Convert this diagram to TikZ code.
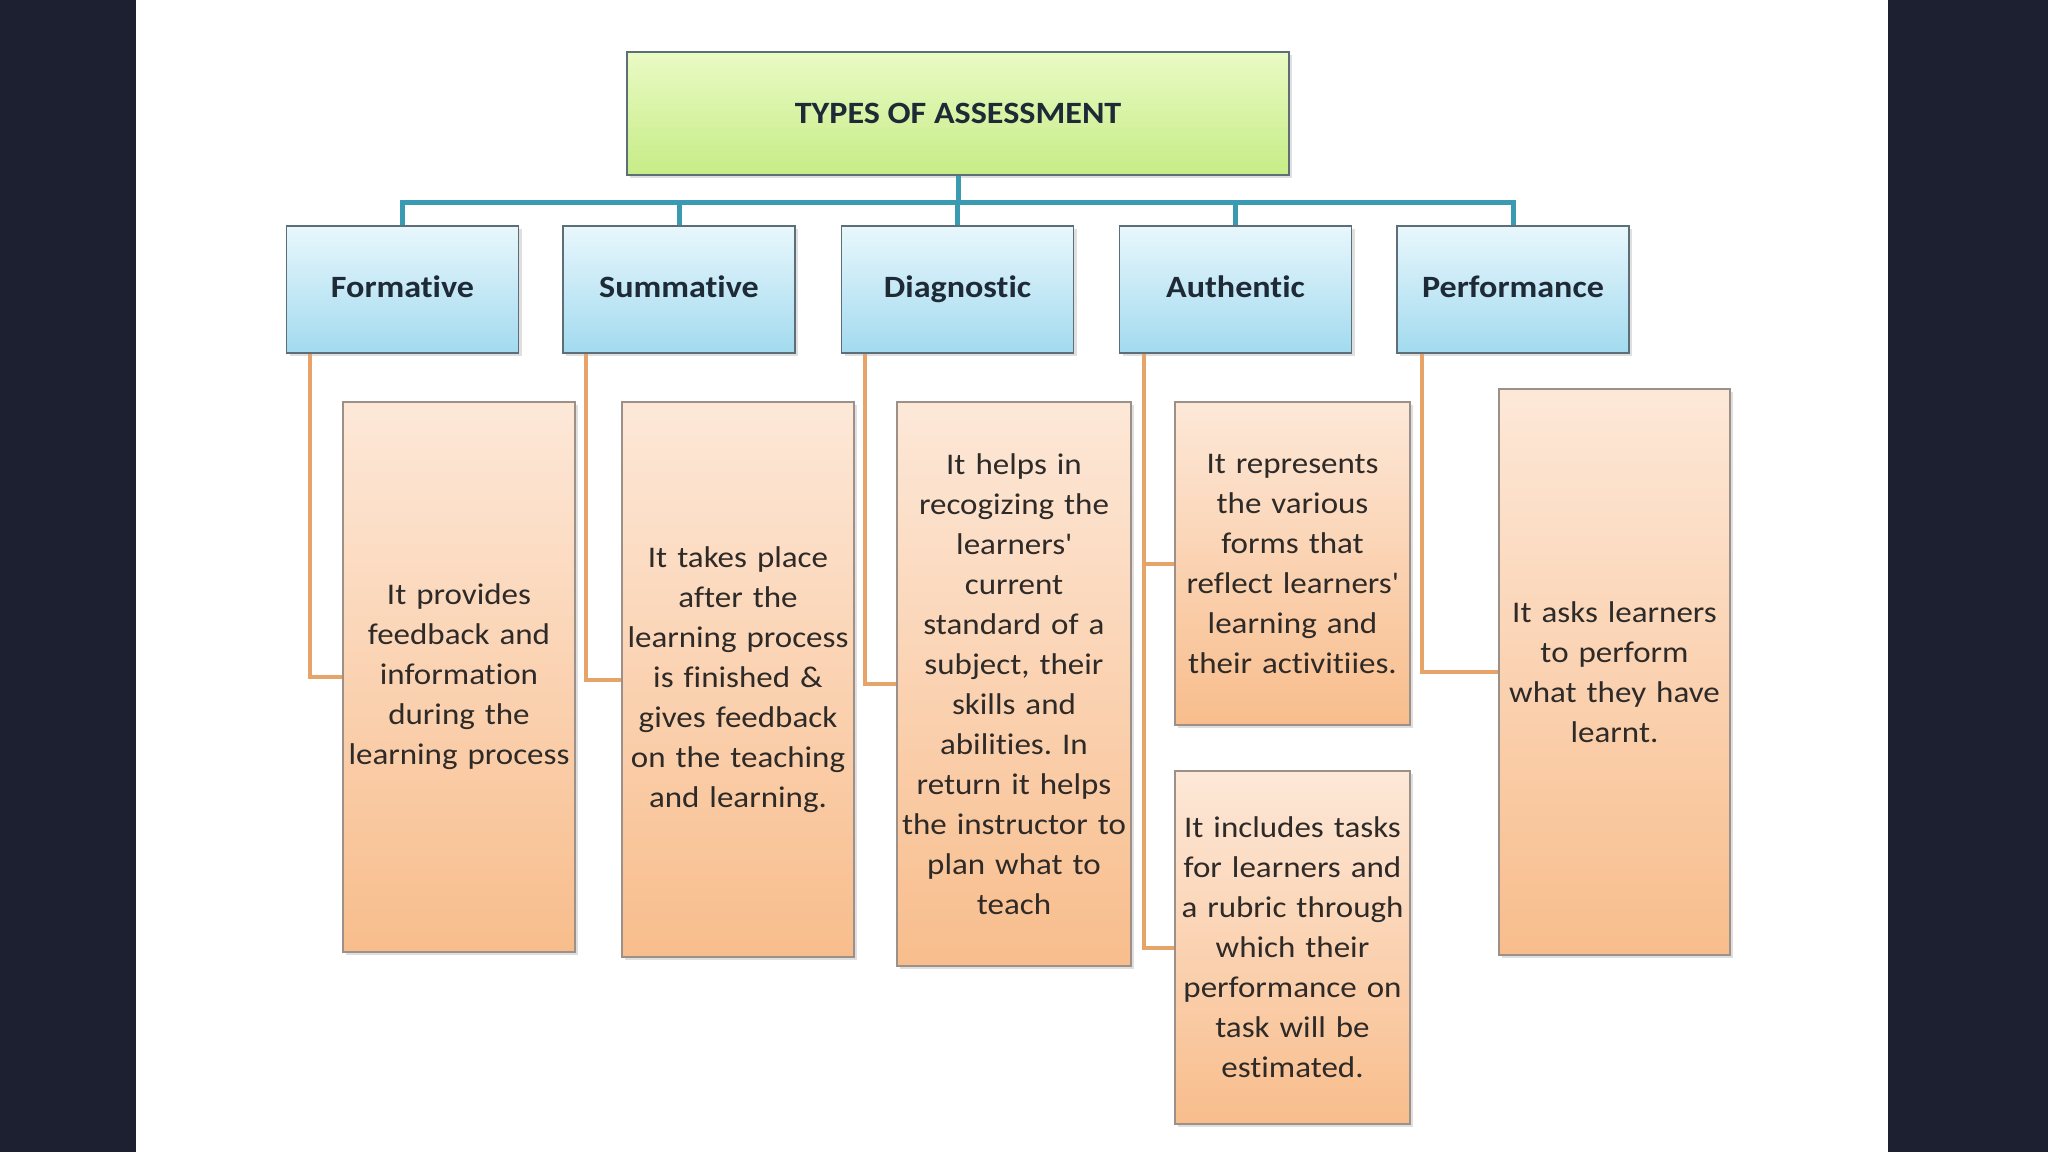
\documentclass[tikz,border=0pt]{standalone}
\usepackage{fontspec}
\setmainfont[FakeStretch=1.1,Ligatures={NoCommon}]{Carlito}
\usetikzlibrary{shadows}
\definecolor{bgdark}{HTML}{1C2030}
\definecolor{busblue}{HTML}{3A9AB2}
\definecolor{linkorange}{HTML}{E6A468}
\definecolor{titletop}{HTML}{EAFAC4}
\definecolor{titlebot}{HTML}{C6EC86}
\definecolor{headtop}{HTML}{E8F7FC}
\definecolor{headbot}{HTML}{A2DAEF}
\definecolor{desctop}{HTML}{FDE8D8}
\definecolor{descbot}{HTML}{F8BD8C}
\definecolor{boxedge}{HTML}{5E6E78}
\definecolor{descedge}{HTML}{9C9088}
\definecolor{inkdark}{HTML}{1E2A36}
\definecolor{bodyink}{HTML}{2E2A28}
\tikzset{
  titlebox/.style={draw=boxedge, line width=2pt, top color=titletop, bottom color=titlebot,
    minimum width=662pt, minimum height=123pt, inner sep=0pt,
    font=\fontsize{31}{36}\selectfont\bfseries, text=inkdark,
    drop shadow={shadow xshift=3pt, shadow yshift=-3pt, opacity=0.25}},
  headbox/.style={draw=boxedge, line width=1.6pt, top color=headtop, bottom color=headbot,
    minimum width=232pt, minimum height=127pt, inner sep=0pt,
    text height=22pt, text depth=6pt,
    font=\fontsize{31}{36}\selectfont\bfseries, text=inkdark,
    drop shadow={shadow xshift=3pt, shadow yshift=-3pt, opacity=0.25}},
  descbox/.style={draw=descedge, line width=1.6pt, top color=desctop, bottom color=descbot,
    inner xsep=1pt, inner ysep=0pt, align=center, text=bodyink,
    font=\fontsize{30}{40}\selectfont\frenchspacing,
    drop shadow={shadow xshift=3pt, shadow yshift=-3pt, opacity=0.25}},
  busline/.style={draw=busblue, line width=5pt},
  linkline/.style={draw=linkorange, line width=4pt}
}
\begin{document}
\begin{tikzpicture}[x=1pt,y=-1pt]
\useasboundingbox (0,0) rectangle (2048,1152);
\fill[bgdark] (0,0) rectangle (2048,1152);
\fill[white] (136,0) rectangle (1888,1152);

\coordinate (bus) at (0,202);

% title
\node[titlebox] (title) at (958,113.5) {TYPES OF ASSESSMENT};

% headers
\node[headbox] (hF) at (402.5,289.5) {Formative};
\node[headbox] (hS) at (679,289.5) {Summative};
\node[headbox] (hD) at (957.5,289.5) {Diagnostic};
\node[headbox] (hA) at (1235.5,289.5) {Authentic};
\node[headbox] (hP) at (1513,289.5) {Performance};

% description boxes
\node[descbox, text width=230pt, minimum height=550pt] (dF) at (459,677)
  {It provides\\feedback and\\information\\during the\\learning process};
\node[descbox, text width=230pt, minimum height=555pt] (dS) at (738,679.5)
  {It takes place\\after the\\learning process\\is finished \&\\gives feedback\\on the teaching\\and learning.};
\node[descbox, text width=232pt, minimum height=564pt] (dD) at (1014,684)
  {It helps in\\recogizing the\\learners\textquotesingle\\current\\standard of a\\subject, their\\skills and\\abilities. In\\return it helps\\the instructor to\\plan what to\\teach};
\node[descbox, text width=233pt, minimum height=323pt] (dA1) at (1292.5,563.5)
  {It represents\\the various\\forms that\\reflect learners\textquotesingle\\learning and\\their activitiies.};
\node[descbox, text width=233pt, minimum height=353pt] (dA2) at (1292.5,947.5)
  {It includes tasks\\for learners and\\a rubric through\\which their\\performance on\\task will be\\estimated.};
\node[descbox, text width=229pt, minimum height=566pt] (dP) at (1614.5,672)
  {It asks learners\\to perform\\what they have\\learnt.};

% blue bus connectors
\draw[busline] (title.south) -- (title.south |- bus);
\draw[busline] (hF.north) -- (hF.north |- bus) -- (hP.north |- bus) -- (hP.north);
\draw[busline] (hS.north) -- (hS.north |- bus);
\draw[busline] (hD.north) -- (hD.north |- bus);
\draw[busline] (hA.north) -- (hA.north |- bus);

% orange link connectors
\coordinate (cF) at ([xshift=24pt]hF.south west);
\coordinate (cS) at ([xshift=24pt]hS.south west);
\coordinate (cD) at ([xshift=24pt]hD.south west);
\coordinate (cA) at ([xshift=25pt]hA.south west);
\coordinate (cP) at ([xshift=26pt]hP.south west);
\draw[linkline] (cF) |- (dF.west);
\draw[linkline] (cS) |- (dS.west);
\draw[linkline] (cD) |- (dD.west);
\draw[linkline] (cA) |- (dA1.west);
\draw[linkline] (cA) |- (dA2.west);
\draw[linkline] (cP) |- (dP.west);
\end{tikzpicture}
\end{document}
